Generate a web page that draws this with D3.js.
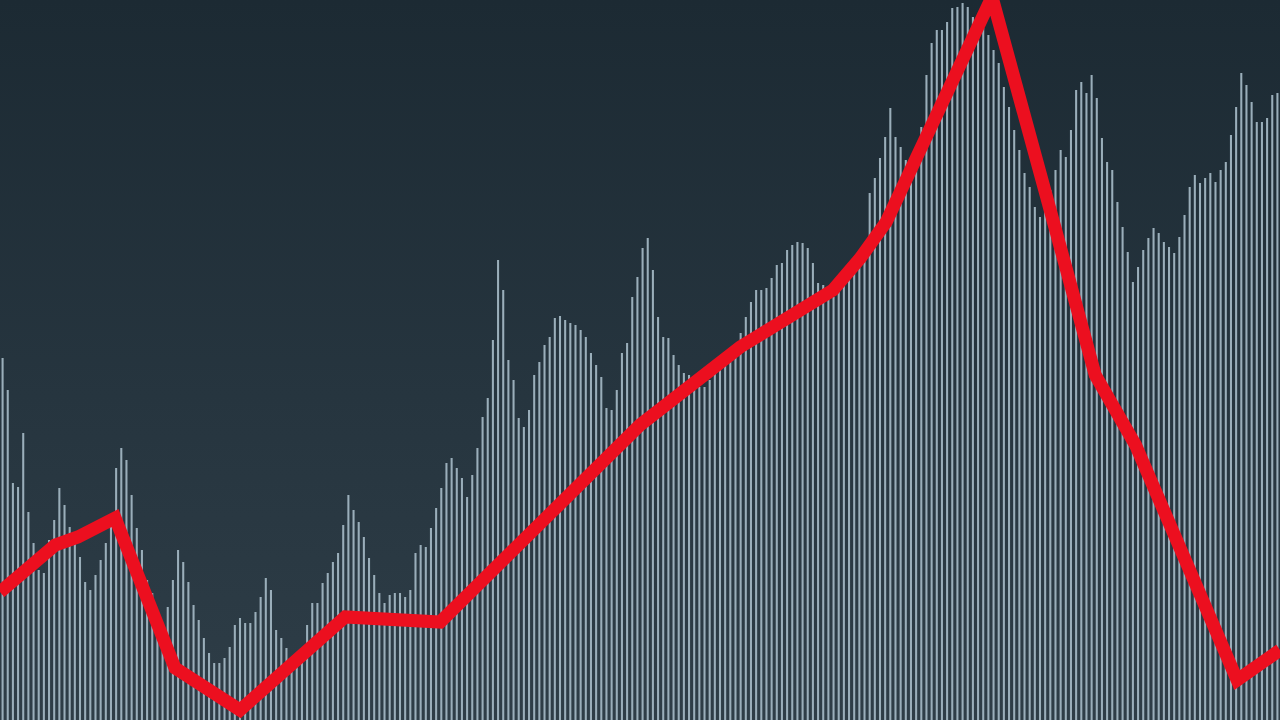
<!DOCTYPE html>
<html>
<head>
<meta charset="utf-8">
<script src="https://cdn.jsdelivr.net/npm/d3@7"></script>
<style>
html,body{margin:0;padding:0;background:#22313a;overflow:hidden;}
svg{display:block;}
</style>
</head>
<body>
<svg id="chart" width="1280" height="720"></svg>
<script>
// Bar heights (volume-like series), read left to right
const barValues = [
  362,330,237,233,287,208,177,150,147,180,200,232,215,193,180,163,138,130,145,160,177,193,252,272,260,225,192,170,140,127,107,93,113,140,170,158,138,115,100,82,67,57,
  57,62,73,95,102,97,97,108,123,142,130,90,82,72,63,53,67,95,117,117,137,147,158,167,195,225,210,198,183,162,145,127,117,125,127,127,123,130,167,175,
  173,192,212,232,257,262,252,242,223,245,272,303,322,380,460,430,360,340,302,293,310,345,358,375,383,402,404,400,397,395,390,383,367,355,343,312,310,330,367,377,423,443,
  472,482,450,403,383,382,365,355,347,345,337,333,333,340,347,350,360,363,373,387,403,418,430,430,432,442,455,457,470,475,478,477,472,457,437,435,430,423,437,443,
  447,450,460,473,527,542,562,583,612,583,573,560,553,563,593,645,677,690,690,698,712,713,717,713,703,700,692,685,670,657,633,613,590,570,547,533,513,503,513,530,550,570,
  563,590,630,638,627,645,622,582,558,550,518,493,468,438,453,470,482,492,487,478,473,467,483,505,533,545,537,542,547,538,550,558,585,613,647,635,618,598,598,602,625,627
];
// Red trend line: positions (in bar-index units) and values
const lineT = [0, 10.7, 15.1, 22.3, 33.9, 46.5, 66.9, 85.3, 124, 143.4, 161.4, 166.7, 171.7, 192.2, 212.2, 220, 239.7, 248];
const lineV = [128, 175, 183, 202, 52, 10, 103, 98, 295, 373, 430, 462, 498, 723, 345, 275, 40, 70];
const yDomain = [0, 720];

const W = 1280, H = 720;
const svg = d3.select("#chart");
const defs = svg.append("defs");
const grad = defs.append("linearGradient").attr("id","bg").attr("x1",0).attr("y1",0).attr("x2",0).attr("y2",1);
grad.append("stop").attr("offset","0%").attr("stop-color","#1c2a33");
grad.append("stop").attr("offset","55%").attr("stop-color","#26353f");
grad.append("stop").attr("offset","100%").attr("stop-color","#2e3d47");
svg.append("rect").attr("width",W).attr("height",H).attr("fill","url(#bg)");

const n = barValues.length;
const x = d3.scaleBand().domain(d3.range(n)).range([0, W]).paddingInner(0.6).paddingOuter(0.3);
const xl = d3.scaleLinear().domain([0, n]).range([0, W]);
const y = d3.scaleLinear().domain(yDomain).range([H, 0]);

svg.append("g").selectAll("rect").data(barValues).join("rect")
  .attr("x", (d,i) => x(i))
  .attr("width", x.bandwidth())
  .attr("y", d => y(d))
  .attr("height", d => H - y(d))
  .attr("fill", "#9aaeba");

const pts = lineT.map((t,i) => [t, lineV[i]]);
const line = d3.line().x(d => xl(d[0])).y(d => y(d[1]));
svg.append("path").datum(pts)
  .attr("d", line)
  .attr("fill","none")
  .attr("stroke","#ec0f1f")
  .attr("stroke-width",13)
  .attr("stroke-linejoin","miter")
  .attr("stroke-miterlimit",3)
  .attr("stroke-linecap","butt");
</script>
</body>
</html>
